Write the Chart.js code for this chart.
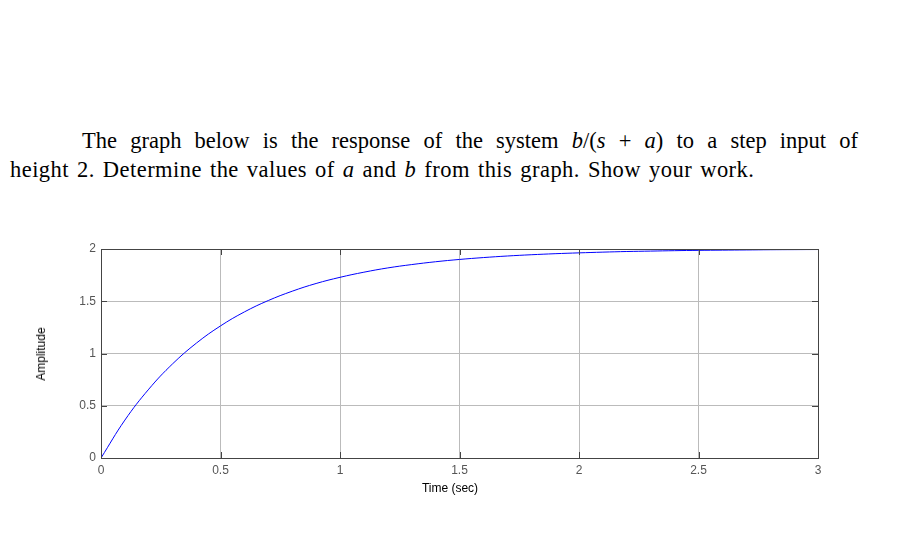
<!DOCTYPE html>
<html><head><meta charset="utf-8">
<script src="https://cdn.jsdelivr.net/npm/chart.js@4"></script>
<style>
body{margin:0;background:#fff;width:913px;height:535px;overflow:hidden;position:relative}
.ln{position:absolute;font-family:"Liberation Serif","DejaVu Serif",serif;font-size:22.5px;color:#000;white-space:nowrap}
#l1{left:82px;top:128px;width:776px;text-align:justify;text-align-last:justify}
#l2{left:10px;top:157px;letter-spacing:0.45px;word-spacing:2px}
.ln i{font-style:italic}
#wrap{position:absolute;left:0;top:235px;width:913px;height:270px}
#yl{position:absolute;left:41px;top:354px;transform:translate(-50%,-50%) rotate(-90deg);font-family:"Liberation Sans",Arial,sans-serif;font-size:12px;color:#000}
#xl{position:absolute;left:450px;top:481px;transform:translateX(-50%);font-family:"Liberation Sans",Arial,sans-serif;font-size:12px;color:#000}
</style></head><body>
<div class="ln" id="l1" style="white-space:normal">The graph below is the response of the system <i>b</i>/(<i>s</i> + <i>a</i>) to a step input of</div>
<div class="ln" id="l2">height 2. Determine the values of <i>a</i> and <i>b</i> from this graph. Show your work.</div>
<div id="wrap"><canvas id="c"></canvas></div>
<div id="yl">Amplitude</div>
<div id="xl">Time (sec)</div>
<script>
const timeSec=[0,0.1,0.2,0.3,0.4,0.5,0.6,0.7,0.8,0.9,1.0,1.1,1.2,1.3,1.4,1.5,1.6,1.7,1.8,1.9,2.0,2.1,2.2,2.3,2.4,2.5,2.6,2.7,2.8,2.9,3.0];
const amplitude=[0,0.363,0.659,0.902,1.101,1.264,1.398,1.507,1.596,1.670,1.729,1.778,1.819,1.851,1.878,1.900,1.918,1.933,1.945,1.955,1.963,1.970,1.976,1.980,1.984,1.987,1.989,1.991,1.993,1.994,1.995];
const xTicks=[0,0.5,1,1.5,2,2.5,3];
const yTicks=[0,0.5,1,1.5,2];
const frame={id:'frame',afterDraw(ch){
 const {ctx,chartArea:a,scales:{x,y}}=ch;ctx.save();
 ctx.strokeStyle='#444';ctx.lineWidth=1;
 ctx.strokeRect(a.left+0.5,a.top+0.5,a.right-a.left,a.bottom-a.top);
 ctx.beginPath();
 xTicks.forEach(v=>{const p=Math.round(x.getPixelForValue(v))+0.5;ctx.moveTo(p,a.bottom);ctx.lineTo(p,a.bottom-6);ctx.moveTo(p,a.top);ctx.lineTo(p,a.top+6);});
 yTicks.forEach(v=>{const p=Math.round(y.getPixelForValue(v))+0.5;ctx.moveTo(a.left,p);ctx.lineTo(a.left+6,p);ctx.moveTo(a.right,p);ctx.lineTo(a.right-6,p);});
 ctx.stroke();ctx.restore();}};
new Chart(document.getElementById('c'),{type:'line',
 data:{datasets:[{data:timeSec.map((t,i)=>({x:t,y:amplitude[i]})),borderColor:'#0000ff',borderWidth:1,pointRadius:0,tension:0.4,fill:false}]},
 options:{responsive:true,maintainAspectRatio:false,animation:false,
  layout:{padding:{top:14,right:95,left:0,bottom:0}},
  plugins:{legend:{display:false},tooltip:{enabled:false}},
  scales:{
   x:{type:'linear',min:0,max:3,afterBuildTicks(s){s.ticks=xTicks.map(v=>({value:v}));},
      afterFit(s){s.height=47;},
      grid:{color:'#bbb',drawTicks:false},border:{display:false},
      ticks:{padding:5,color:'#555',font:{family:'"Liberation Sans",Arial',size:12},callback:v=>String(v),maxRotation:0}},
   y:{min:0,max:2,afterBuildTicks(s){s.ticks=yTicks.map(v=>({value:v}));},
      afterFit(s){s.width=101;},
      grid:{color:'#bbb',drawTicks:false},border:{display:false},
      ticks:{padding:5,color:'#555',font:{family:'"Liberation Sans",Arial',size:12},callback:v=>String(v)}}
  }},plugins:[frame]});
</script></body></html>
